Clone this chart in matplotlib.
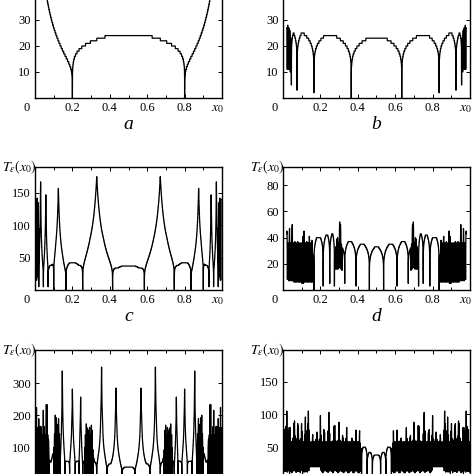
import numpy as np
import matplotlib.pyplot as plt
from matplotlib.ticker import MultipleLocator

plt.rcParams['font.family'] = ['Liberation Serif', 'DejaVu Serif']
plt.rcParams['mathtext.fontset'] = 'stix'

# values, left half only (the curves are mirrored about x0 = 0.5)
# dips: (position, depth, width); levels: plateau per segment, last one is the centre
# spikes: (position, height, width); bands: dense oscillation (start, end, low, cycles)
a_dips = [(0.2, 0, 0.2)]
a_levels = [0, 24]
a_spikes = [(0.03, 60, 0.07)]
a_bands = []
a_range = (0.033, 0.967)

b_dips = [(0.045, 5, 0.012), (0.075, 3, 0.025), (0.165, 2, 0.06), (0.365, 0, 0.09)]
b_levels = [27, 26, 25, 24, 23]
b_spikes = [(0.025, 29, 0.003)]
b_bands = [(0.02, 0.042, 10, 4)]
b_range = (0.02, 0.98)

c_dips = [(0.02, 5, 0.005), (0.045, 5, 0.008), (0.07, 5, 0.01), (0.1, 0, 0.012),
          (0.165, 0, 0.02), (0.255, 0, 0.04), (0.415, 0, 0.05)]
c_levels = [140, 40, 40, 38, 40, 42, 45, 37]
c_spikes = [(0.012, 150, 0.003), (0.03, 167, 0.004), (0.058, 147, 0.005),
            (0.125, 157, 0.012), (0.33, 175, 0.03)]
c_bands = [(0.005, 0.02, 10, 4)]
c_range = (0.005, 0.995)

d_dips = [(0.165, 0, 0.015), (0.215, 3, 0.015), (0.25, 5, 0.012), (0.275, 3, 0.01),
          (0.33, 5, 0.02), (0.39, 3, 0.025), (0.462, 0, 0.03)]
d_levels = [36, 40, 42, 43, 34, 37, 35, 33]
d_spikes = [(0.022, 52, 0.01), (0.035, 48, 0.01), (0.05, 55, 0.01), (0.065, 44, 0.009),
            (0.08, 46, 0.01), (0.095, 42, 0.009), (0.11, 57, 0.01), (0.125, 44, 0.009),
            (0.14, 46, 0.01), (0.155, 42, 0.009), (0.29, 48, 0.01), (0.305, 63, 0.01)]
d_bands = [(0.02, 0.163, 5, 20), (0.277, 0.318, 15, 8)]
d_range = (0.02, 0.98)

e_dips = [(0.075, 0, 0.006), (0.1, 0, 0.006), (0.135, 0, 0.006), (0.16, 0, 0.006),
          (0.185, 0, 0.006), (0.215, 0, 0.006), (0.235, 0, 0.005), (0.255, 0, 0.005),
          (0.265, 0, 0.004), (0.31, 0, 0.006), (0.33, 0, 0.008), (0.385, 0, 0.012),
          (0.465, 0, 0.015)]
e_levels = [140, 55, 150, 58, 58, 58, 58, 55, 55, 140, 55, 52, 50, 40]
e_spikes = [(0.008, 225, 0.01), (0.02, 190, 0.008), (0.03, 205, 0.008),
            (0.045, 245, 0.006), (0.062, 338, 0.004), (0.108, 215, 0.008),
            (0.115, 270, 0.004), (0.125, 215, 0.008), (0.146, 338, 0.004),
            (0.2, 282, 0.005), (0.244, 257, 0.004), (0.276, 235, 0.005),
            (0.29, 200, 0.008), (0.303, 230, 0.005), (0.356, 350, 0.005),
            (0.433, 285, 0.006)]
e_bands = [(0.0, 0.072, 0, 18), (0.1, 0.135, 0, 8), (0.265, 0.31, 0, 10)]
e_range = (0.0, 1.0)

f_dips = [(0.42, 5, 0.008), (0.45, 3, 0.01), (0.478, 3, 0.01)]
f_levels = [58, 50, 42, 38]
f_spikes = [(0.01, 90, 0.01), (0.02, 110, 0.01), (0.035, 95, 0.01), (0.06, 105, 0.01),
            (0.08, 100, 0.01), (0.1, 95, 0.01), (0.12, 100, 0.01), (0.135, 113, 0.01),
            (0.16, 80, 0.01), (0.18, 85, 0.01), (0.2, 98, 0.01), (0.22, 90, 0.01),
            (0.245, 105, 0.01), (0.275, 100, 0.01), (0.3, 88, 0.01), (0.32, 80, 0.01),
            (0.34, 85, 0.01), (0.37, 75, 0.01), (0.39, 80, 0.01), (0.41, 85, 0.006)]
f_bands = [(0.0, 0.14, 10, 34), (0.14, 0.2, 20, 10), (0.2, 0.418, 10, 48)]
f_range = (0.0, 1.0)


def mirror(dips, levels, spikes, bands):
    dips = dips + [(1 - p, d, w) for p, d, w in dips[::-1]]
    levels = levels + levels[-2::-1]
    spikes = spikes + [(1 - p, h, w) for p, h, w in spikes[::-1]]
    bands = bands + [(1 - b, 1 - a, lo, n) for a, b, lo, n in bands[::-1]]
    return dips, levels, spikes, bands


def build(dips, levels, spikes, bands, xr):
    dips, levels, spikes, bands = mirror(dips, levels, spikes, bands)
    pos = np.array([p for p, _, _ in dips])
    x = np.union1d(np.linspace(xr[0], xr[1], 20001), pos)
    seg = np.searchsorted(pos, x)
    y = np.array(levels, dtype=float)[seg]
    for p, h, w in spikes:
        y = np.maximum(y, h * w / (np.abs(x - p) + w))
    for p, depth, w in dips:
        d = np.abs(x - p)
        near = d < w
        g = (d[near] / w) ** 0.15
        y[near] = depth + (y[near] - depth) * g
    for a, b, lo, n in bands:
        m = (x >= a) & (x <= b)
        t = (x[m] - a) / (b - a)
        y[m] = lo + (y[m] - lo) * np.abs(np.cos(np.pi * n * t)) ** 0.6
    return x, np.round(y)


panels = [
    ('a', (a_dips, a_levels, a_spikes, a_bands, a_range), (0, 47.3), [10, 20, 30]),
    ('b', (b_dips, b_levels, b_spikes, b_bands, b_range), (0, 47.3), [10, 20, 30]),
    ('c', (c_dips, c_levels, c_spikes, c_bands, c_range), (0, 190), [50, 100, 150]),
    ('d', (d_dips, d_levels, d_spikes, d_bands, d_range), (0, 94), [20, 40, 60, 80]),
    ('e', (e_dips, e_levels, e_spikes, e_bands, e_range), (0, 403), [100, 200, 300]),
    ('f', (f_dips, f_levels, f_spikes, f_bands, f_range), (0, 198), [50, 100, 150]),
]

fig = plt.figure(figsize=(4.74, 4.74), dpi=100)
px = 1 / 474
rows = [(98, 123), (290, 123), (480, 130)]
cols = [35, 283]

for i, (letter, data, ylim, yt) in enumerate(panels):
    r, c = divmod(i, 2)
    bot, h = rows[r]
    ax = fig.add_axes([cols[c] * px, 1 - bot * px, 187 * px, h * px])
    x, y = build(*data)
    ax.plot(x, y, color='black', lw=0.9)
    ax.set_xlim(0, 1)
    ax.set_ylim(*ylim)
    ax.set_xticks([0.2, 0.4, 0.6, 0.8])
    ax.xaxis.set_minor_locator(MultipleLocator(0.1))
    ax.set_yticks(yt)
    ax.tick_params(which='both', direction='in', top=True, right=True,
                   labelsize=9, pad=3, length=3, width=0.7)
    ax.tick_params(which='minor', length=2)
    for s in ax.spines.values():
        s.set_linewidth(1.0)
    ax.text(-0.043, -0.03, '0', transform=ax.transAxes, ha='center', va='top', fontsize=9)
    ax.text(0.975, -0.03, '$x_0$', transform=ax.transAxes, ha='center', va='top', fontsize=10)
    ax.text(0.5, -0.15, letter, transform=ax.transAxes, ha='center', va='top',
            fontsize=14, style='italic')
    if r > 0:
        ax.text(-0.175, 1.0, r'$T_\varepsilon(x_0)$', transform=ax.transAxes,
                ha='left', va='center', fontsize=10)

fig.savefig('out.png', dpi=100)
